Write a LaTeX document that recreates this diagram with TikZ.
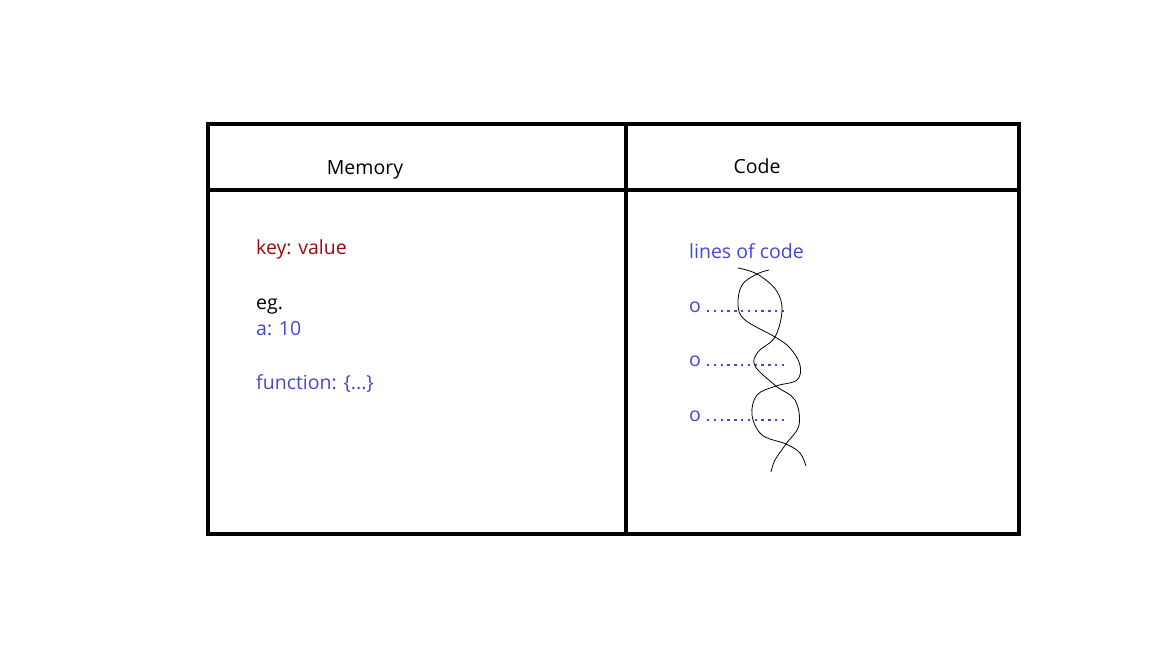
\documentclass[tikz,border=0pt]{standalone}
\usepackage{fontspec}
\setmainfont{Open Sans}
\definecolor{kred}{RGB}{150,10,20}
\definecolor{kblue}{RGB}{70,70,210}
\begin{document}
\begin{tikzpicture}[x=1pt,y=-1pt,
  lab/.style={anchor=base west,inner sep=0pt,font=\fontsize{19.5}{23}\selectfont},
  frame/.style={line width=3.5pt},
  helix/.style={line width=0.8pt},
  dots/.style={kblue,line width=2.4pt,dash pattern=on 2.4pt off 4.4pt}]
\useasboundingbox (0,0) rectangle (1152,648);
\draw[frame] (208,124) rectangle (1019,534);
\draw[frame] (208,190) -- (1019,190);
\draw[frame] (626,124) -- (626,534);
\node[lab,anchor=base] (mem) at (365,174) {Memory};
\node[lab,anchor=base] (code) at (757,173) {Code};
\node[lab,kred] (kv) at (256,254) {key: value};
\node[lab] (eg) at (256,309) {eg.};
\node[lab,kblue] (a) at (256,335) {a: 10};
\node[lab,kblue] (fn) at (256,389) {function: \{...\}};
\node[lab,kblue] (loc) at (689,258) {lines of code};
\foreach \y/\n in {312/o1,366/o2,421/o3}{
  \node[lab,kblue] (\n) at (689,\y) {o};
  \draw[dots] (707,\y-1) -- (784,\y-1);
}
\draw[helix] plot[smooth,tension=0.6] coordinates {(738,268) (757,274) (776,290) (782,310) (775,337) (758,352) (755,366) (776,386) (795,400) (799,425) (786,444) (775,460) (771,472)};
\draw[helix] plot[smooth,tension=0.6] coordinates {(769,270) (757,274) (742,285) (738,305) (745,320) (775,337) (790,348) (800,365) (797,380) (776,386) (757,395) (752,415) (762,435) (786,444) (800,453) (806,466)};
\end{tikzpicture}
\end{document}
